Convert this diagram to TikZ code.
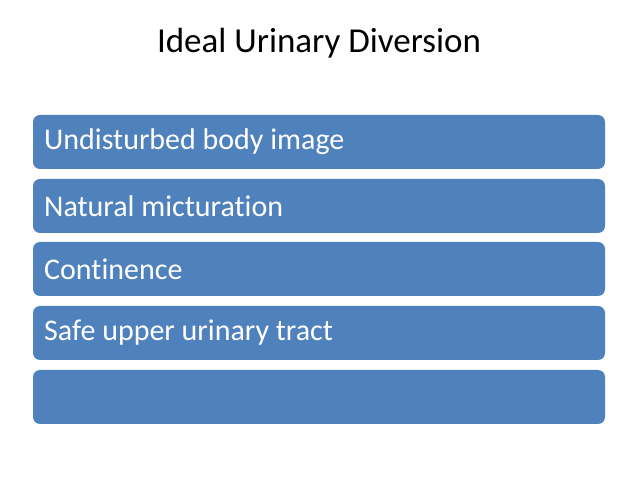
\documentclass[tikz,border=0pt]{standalone}
\usepackage{fontspec}
\setmainfont[RawFeature=-liga]{Carlito}
\definecolor{barblue}{HTML}{4F81BD}
\tikzset{
  bar/.style={fill=barblue,draw=none,rounded corners=7pt},
  bartext/.style={anchor=west,text=white,font=\fontsize{30}{34}\selectfont,inner sep=0pt}
}
\begin{document}
\begin{tikzpicture}[x=1pt,y=-1pt]
  \useasboundingbox (0,0) rectangle (638,478);
  \node (title) at (319,43) {\fontsize{35}{40}\selectfont Ideal Urinary Diversion};

  \foreach \top/\name/\txt in {115/b1/Undisturbed body image,
                               179/b2/Natural micturation,
                               242/b3/Continence,
                               306/b4/Safe upper urinary tract,
                               370/b5/{}} {
    \fill[bar] (33,\top) rectangle (605,\top+54);
    \node[bartext] (\name) at (44,\top+27) {\txt};
  }
\end{tikzpicture}
\end{document}
